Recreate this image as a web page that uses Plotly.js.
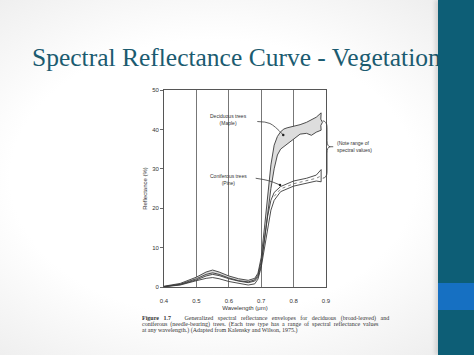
<!DOCTYPE html>
<html>
<head>
<meta charset="utf-8">
<script src="https://cdn.plot.ly/plotly-3.0.1.min.js"></script>
<style>
  html, body { margin: 0; padding: 0; width: 474px; height: 355px; overflow: hidden; }
  body { position: relative; background: radial-gradient(ellipse at 45% 50%, #ffffff 55%, #ebebeb 100%); }
  #chart { position: absolute; left: 0; top: 0; width: 474px; height: 355px; }
  #sidebar { position: absolute; left: 438px; top: 0; width: 36px; height: 355px; background: #0d5e76; box-shadow: -3px 0 4px rgba(0,0,0,0.12); }
  #sidebar-accent { position: absolute; left: 0; top: 283px; width: 36px; height: 27px; background: #1670c2; }
</style>
</head>
<body>
<div id="chart"></div>
<div id="sidebar"><div id="sidebar-accent"></div></div>
<script>
// Wavelength samples (µm) and reflectance (%) for the two spectral envelopes
const decidWl = [0.40, 0.45, 0.50, 0.53, 0.55, 0.57, 0.60, 0.63, 0.66, 0.68, 0.69, 0.70, 0.71, 0.72, 0.73, 0.74, 0.75, 0.76, 0.77, 0.78, 0.80, 0.82, 0.84, 0.855, 0.87, 0.885];
const decidHi = [0.2, 0.9, 2.5, 3.8, 4.3, 3.8, 2.8, 2.1, 1.7, 2.2, 3.5, 7.5, 15.0, 24.0, 31.0, 36.0, 38.2, 39.4, 40.1, 40.4, 40.8, 41.2, 41.8, 42.4, 43.1, 44.2];
const decidLo = [0.1, 0.6, 1.8, 2.8, 3.2, 2.9, 2.1, 1.5, 1.1, 1.5, 2.5, 5.5, 11.0, 18.0, 25.0, 30.0, 33.5, 35.0, 35.7, 36.2, 37.5, 38.8, 39.0, 38.5, 39.3, 39.8];
// Notched right end of the deciduous envelope (top to bottom)
const decidCapWl = [0.884, 0.889, 0.884];
const decidCapY  = [42.6, 41.8, 41.0];

const coniferWl = [0.40, 0.45, 0.50, 0.53, 0.55, 0.57, 0.60, 0.63, 0.66, 0.68, 0.69, 0.70, 0.71, 0.72, 0.73, 0.74, 0.76, 0.80, 0.84, 0.87, 0.885];
const coniferHi = [0.1, 0.7, 2.1, 3.2, 3.6, 3.2, 2.3, 1.6, 1.3, 1.8, 3.0, 6.5, 12.0, 18.0, 22.0, 24.0, 25.5, 26.9, 27.6, 28.4, 29.8];
const coniferLo = [0.05, 0.5, 1.6, 2.2, 2.4, 2.1, 1.4, 0.9, 0.5, 0.8, 2.0, 5.0, 10.0, 15.5, 19.5, 22.0, 24.2, 25.6, 26.4, 26.9, 26.7];
const coniferMidWl = [0.74, 0.76, 0.80, 0.84, 0.87, 0.885];
const coniferMid   = [23.0, 24.9, 26.2, 27.0, 27.6, 28.2];

// Leader lines from the labels into each envelope
const decidLeaderWl = [0.688, 0.727, 0.768];
const decidLeaderY  = [42.0, 41.5, 38.6];
const coniferLeaderWl = [0.683, 0.722, 0.758];
const coniferLeaderY  = [27.6, 27.0, 25.9];

// Axis ticks and spectral band labels
const xTicks = [0.4, 0.5, 0.6, 0.7, 0.8, 0.9];
const xTickText = ['0.4', '0.5', '0.6', '0.7', '0.8', '0.9'];
const yTicks = [0, 10, 20, 30, 40, 50];
const bandNames = ['Blue', 'Green', 'Red', 'Near-infrared'];
const bandCenters = [0.45, 0.547, 0.655, 0.80];

// Caption lines with the extra word spacing each justified line needs
const captionLines = [
  '<b>Figure 1.7</b>   Generalized spectral reflectance envelopes for deciduous (broad-leaved) and',
  'coniferous (needle-bearing) trees. (Each tree type has a range of spectral reflectance values',
  'at any wavelength.) (Adapted from Kalensky and Wilson, 1975.)'
];
const captionExtraSpaces = [2, 1, 0];

const ink = '#3a3a3a';
const sans = 'Liberation Sans, Arial, sans-serif';
const serif = 'Liberation Serif, Times New Roman, serif';

function spread(line, extra) {
  if (!extra) return line;
  return line.split(' ').join(' ' + '\u00A0'.repeat(extra));
}

// Closed outline of the deciduous envelope: upper edge, notched end, lower edge back
const decidPolyX = decidWl.concat(decidCapWl, decidWl.slice().reverse(), [decidWl[0]]);
const decidPolyY = decidHi.concat(decidCapY, decidLo.slice().reverse(), [decidHi[0]]);

const traces = [
  { x: decidPolyX, y: decidPolyY, mode: 'lines', fill: 'toself', fillcolor: '#dddddd',
    line: { color: ink, width: 0.9 }, hoverinfo: 'skip', showlegend: false },
  { x: coniferWl, y: coniferHi, mode: 'lines', line: { color: ink, width: 0.9 }, showlegend: false },
  { x: coniferWl, y: coniferLo, mode: 'lines', line: { color: ink, width: 0.9 }, showlegend: false },
  { x: [coniferWl[coniferWl.length - 1], coniferWl[coniferWl.length - 1]],
    y: [coniferLo[coniferLo.length - 1], coniferHi[coniferHi.length - 1]],
    mode: 'lines', line: { color: ink, width: 0.9 }, showlegend: false },
  { x: coniferMidWl, y: coniferMid, mode: 'lines', line: { color: '#666', width: 0.8, dash: 'dot' }, showlegend: false },
  { x: decidLeaderWl, y: decidLeaderY, mode: 'lines', line: { color: ink, width: 0.8, shape: 'spline' }, showlegend: false },
  { x: coniferLeaderWl, y: coniferLeaderY, mode: 'lines', line: { color: ink, width: 0.8, shape: 'spline' }, showlegend: false },
  { x: [decidLeaderWl[2], coniferLeaderWl[2]], y: [decidLeaderY[2], coniferLeaderY[2]], mode: 'markers',
    marker: { color: '#222', size: 2.5 }, showlegend: false }
];

const annotations = [
  { text: 'Spectral Reflectance Curve - Vegetation', xref: 'paper', yref: 'paper', x: 30 / 474, y: 1 - 57 / 355,
    xanchor: 'left', yanchor: 'middle', showarrow: false, font: { family: serif, size: 25.5, color: '#1b5b70' } },
  { text: 'Deciduous trees<br>(Maple)', xref: 'x', yref: 'y', x: 0.598, y: 42.5, showarrow: false,
    font: { family: sans, size: 5, color: '#333' } },
  { text: 'Coniferous trees<br>(Pine)', xref: 'x', yref: 'y', x: 0.598, y: 27.2, showarrow: false,
    font: { family: sans, size: 5, color: '#333' } },
  { text: '(Note range of<br>spectral values)', xref: 'paper', yref: 'y', x: 334.5 / 474, y: 35.6, xanchor: 'left',
    align: 'left', showarrow: false, font: { family: sans, size: 5, color: '#333' } }
];
bandNames.forEach((name, i) => {
  annotations.push({ text: name, xref: 'x', yref: 'y', x: bandCenters[i], y: -1.6, showarrow: false,
    font: { family: sans, size: 5.5, color: '#333' } });
});
captionLines.forEach((line, i) => {
  annotations.push({ text: spread(line, captionExtraSpaces[i]), xref: 'paper', yref: 'paper',
    x: 140 / 474, y: 1 - (318.5 + i * 6) / 355,
    xanchor: 'left', yanchor: 'middle', showarrow: false, font: { family: serif, size: 6, color: '#333' } });
});

// Bracket tying the two envelope ends to the note
const shapes = [
  { type: 'path', xref: 'paper', yref: 'y',
    path: 'M 0.681,42.2 Q 0.690,42.0 0.690,40.5 L 0.690,37.2 Q 0.690,35.6 0.697,35.6 Q 0.690,35.6 0.690,34.0 L 0.690,29.2 Q 0.690,27.8 0.681,27.6',
    line: { color: ink, width: 0.8 } },
  { type: 'line', xref: 'paper', yref: 'y', x0: 0.697, x1: 0.703, y0: 35.6, y1: 35.6, line: { color: ink, width: 0.8 } }
];

const layout = {
  width: 474, height: 355, autosize: false,
  margin: { l: 0, r: 0, t: 0, b: 0 },
  paper_bgcolor: 'rgba(0,0,0,0)', plot_bgcolor: '#ffffff',
  showlegend: false,
  xaxis: {
    domain: [164 / 474, 326 / 474], range: [0.4, 0.9],
    tickvals: xTicks, ticktext: xTickText, ticks: '', ticklabelstandoff: 8,
    showgrid: true, gridcolor: '#555', gridwidth: 0.8, zeroline: false,
    showline: true, mirror: true, linecolor: '#444', linewidth: 0.9,
    tickfont: { family: sans, size: 6, color: '#333' },
    title: { text: 'Wavelength (μm)', standoff: 2, font: { family: sans, size: 6, color: '#333' } }
  },
  yaxis: {
    domain: [68 / 355, 265 / 355], range: [0, 50],
    tickvals: yTicks, ticks: 'outside', ticklen: 3, tickcolor: '#444', tickwidth: 0.8,
    showgrid: false, zeroline: false,
    showline: true, mirror: true, linecolor: '#444', linewidth: 0.9,
    tickfont: { family: sans, size: 6, color: '#333' },
    title: { text: 'Reflectance (%)', standoff: 4, font: { family: sans, size: 6, color: '#333' } }
  },
  annotations: annotations,
  shapes: shapes
};

Plotly.newPlot('chart', traces, layout, { staticPlot: true, displayModeBar: false });
</script>
</body>
</html>
